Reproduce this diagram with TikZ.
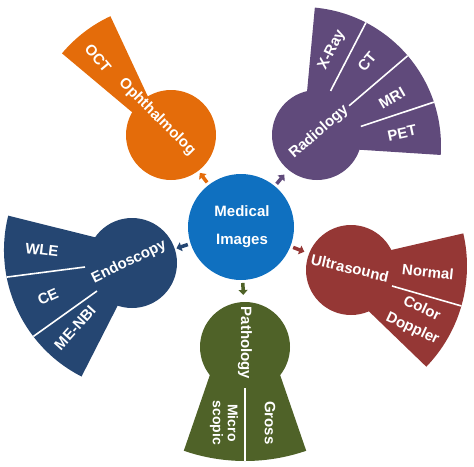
\documentclass[tikz,border=0pt]{standalone}
\usepackage{fontspec}
\setmainfont{Liberation Sans}
\usetikzlibrary{calc,arrows.meta}
\definecolor{cOrange}{HTML}{E46C0A}
\definecolor{cPurple}{HTML}{604A7B}
\definecolor{cNavy}{HTML}{254672}
\definecolor{cRed}{HTML}{953735}
\definecolor{cGreen}{HTML}{4F6228}
\definecolor{cBlue}{HTML}{0F70C0}
\begin{document}
\begin{tikzpicture}[x=1pt,y=1pt,
  blob/.style={circle, minimum size=90pt, inner sep=0pt},
  lbl/.style={text=white, font=\fontsize{15}{17}\selectfont\bfseries, inner sep=0pt, align=center},
  divider/.style={white, line width=1.6pt},
  link/.style={line width=3.5pt, -{Triangle[length=5pt,width=9pt]}},
]
\useasboundingbox (0,0) rectangle (474,-466);

% centre
\node[circle, fill=cBlue, minimum size=106pt, inner sep=0pt] (mc) at (241,-227) {};
\node[lbl, font=\fontsize{15}{28}\selectfont\bfseries] (mct) at (242,-227) {Medical\\Images};

% Ophthalmology
\coordinate (oA) at (170,-144);
\fill[cOrange] (oA) -- ++(115:141) arc[start angle=115, end angle=140, radius=141] -- cycle;
\node[blob, fill=cOrange] (oph) at (171,-135) {};
\node[lbl, rotate=-45] (ophT) at (157,-117) {Ophthalmolog};
\node[lbl, rotate=-50] (oct) at (98,-58) {OCT};

% Radiology
\coordinate (rA) at (302,-146);
\fill[cPurple] (rA) -- ++(-3.7:139) arc[start angle=-3.7, end angle=84.7, radius=139] -- cycle;
\node[blob, fill=cPurple] (rad) at (317,-135) {};
\foreach \a in {18.4,40.5,62.6}
  \draw[divider] ($(rA)+(\a:62)$) -- ($(rA)+(\a:139)$);
\node[lbl, rotate=41] (radT) at (319,-132) {Radiology};
\node[lbl, rotate=63] (xray) at (332,-50) {X-Ray};
\node[lbl, rotate=50] (ct) at (367,-62) {CT};
\node[lbl, rotate=30] (mri) at (392,-98) {MRI};
\node[lbl, rotate=12] (pet) at (402,-133) {PET};

% Endoscopy
\coordinate (eA) at (146,-250);
\fill[cNavy] (eA) -- ++(166:142) arc[start angle=166, end angle=243, radius=142] -- cycle;
\node[blob, fill=cNavy] (endo) at (132,-263) {};
\draw[divider] (85,-267) -- ($(eA)+(191:142)$);
\draw[divider] (97,-291) -- ($(eA)+(217.5:142)$);
\node[lbl, rotate=26] (endoT) at (129,-262) {Endoscopy};
\node[lbl, rotate=-7] (wle) at (42,-250) {WLE};
\node[lbl, rotate=24] (ce) at (48,-297) {CE};
\node[lbl, rotate=48] (menbi) at (75,-328) {ME-NBI};

% Ultrasound
\coordinate (uA) at (322,-266);
\fill[cRed] (uA) -- ++(-44:145) arc[start angle=-44, end angle=13, radius=145] -- cycle;
\node[blob, fill=cRed] (us) at (351,-270) {};
\draw[divider] (392,-286) -- ($(uA)+(-16:145)$);
\node[lbl, rotate=-13] (usT) at (350,-268) {Ultrasound};
\node[lbl, rotate=-6] (normal) at (428,-272) {Normal};
\node[lbl, rotate=-25, font=\fontsize{15}{22}\selectfont\bfseries] (cdop) at (417,-319) {Color\\Doppler};

% Pathology
\coordinate (pA) at (245,-273);
\fill[cGreen] ($(pA)+(251:80)$) -- ($(pA)+(251:188)$) arc[start angle=251, end angle=289, radius=188] -- ($(pA)+(289:80)$) -- cycle;
\node[blob, fill=cGreen] (path) at (245,-347) {};
\draw[divider] (245,-388) -- ($(pA)+(270:188)$);
\node[lbl, rotate=-90] (pathT) at (245,-343) {Pathology};
\node[lbl, rotate=-90] (gross) at (270,-423) {Gross};
\node[lbl, rotate=-90, font=\fontsize{14}{15}\selectfont\bfseries] (micro) at (224,-423) {Micro\\scopic};

% connectors
\draw[link, cOrange] ($(mc)!56pt!(oph)$) -- ($(mc)!68pt!(oph)$);
\draw[link, cPurple] ($(mc)!56pt!(rad)$) -- ($(mc)!68pt!(rad)$);
\draw[link, cNavy] ($(mc)!56pt!(endo)$) -- ($(mc)!68pt!(endo)$);
\draw[link, cRed] ($(mc)!56pt!(us)$) -- ($(mc)!68pt!(us)$);
\draw[link, cGreen] ($(mc)!56pt!(path)$) -- ($(mc)!68pt!(path)$);
\end{tikzpicture}
\end{document}
